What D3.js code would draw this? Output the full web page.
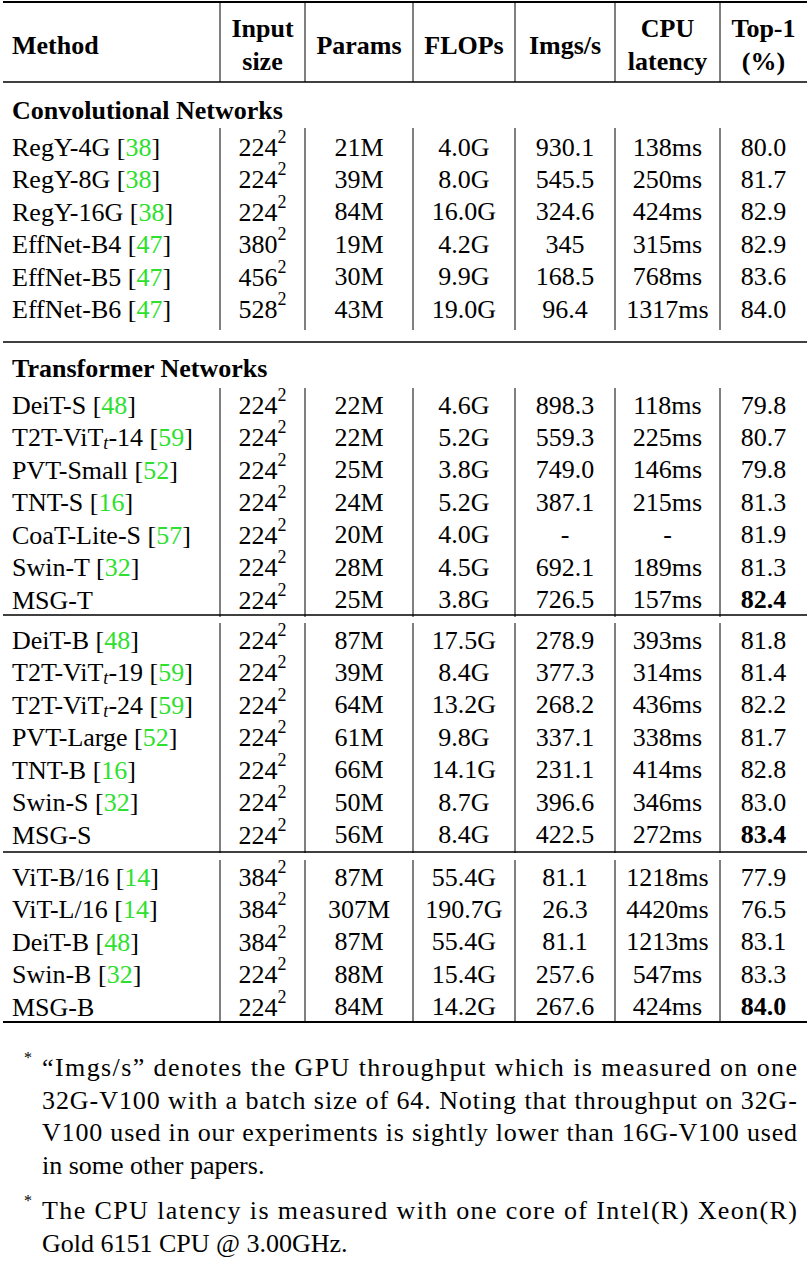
<!DOCTYPE html>
<html><head><meta charset="utf-8">
<script src="https://cdn.jsdelivr.net/npm/d3@7"></script>
<style>body{margin:0;background:#fff}</style></head>
<body><svg id="c" width="811" height="1286"></svg>
<script>
const headers=[["Method"],["Input","size"],["Params"],["FLOPs"],["Imgs/s"],["CPU","latency"],["Top-1","(%)"]];
const sectionTitles=["Convolutional Networks","Transformer Networks","",""];
const methods=[
["RegY-4G","RegY-8G","RegY-16G","EffNet-B4","EffNet-B5","EffNet-B6"],
["DeiT-S","T2T-ViTt-14","PVT-Small","TNT-S","CoaT-Lite-S","Swin-T","MSG-T"],
["DeiT-B","T2T-ViTt-19","T2T-ViTt-24","PVT-Large","TNT-B","Swin-S","MSG-S"],
["ViT-B/16","ViT-L/16","DeiT-B","Swin-B","MSG-B"]];
const refs=[[38,38,38,47,47,47],[48,59,52,16,57,32,null],[48,59,59,52,16,32,null],[14,14,48,32,null]];
const inputSizes=[[224,224,224,380,456,528],[224,224,224,224,224,224,224],[224,224,224,224,224,224,224],[384,384,384,224,224]];
const params=[["21M","39M","84M","19M","30M","43M"],["22M","22M","25M","24M","20M","28M","25M"],["87M","39M","64M","61M","66M","50M","56M"],["87M","307M","87M","88M","84M"]];
const flops=[["4.0G","8.0G","16.0G","4.2G","9.9G","19.0G"],["4.6G","5.2G","3.8G","5.2G","4.0G","4.5G","3.8G"],["17.5G","8.4G","13.2G","9.8G","14.1G","8.7G","8.4G"],["55.4G","190.7G","55.4G","15.4G","14.2G"]];
const imgs=[["930.1","545.5","324.6","345","168.5","96.4"],["898.3","559.3","749.0","387.1","-","692.1","726.5"],["278.9","377.3","268.2","337.1","231.1","396.6","422.5"],["81.1","26.3","81.1","257.6","267.6"]];
const latency=[["138ms","250ms","424ms","315ms","768ms","1317ms"],["118ms","225ms","146ms","215ms","-","189ms","157ms"],["393ms","314ms","436ms","338ms","414ms","346ms","272ms"],["1218ms","4420ms","1213ms","547ms","424ms"]];
const top1=[["80.0","81.7","82.9","82.9","83.6","84.0"],["79.8","80.7","79.8","81.3","81.9","81.3","82.4"],["81.8","81.4","82.2","81.7","82.8","83.0","83.4"],["77.9","76.5","83.1","83.3","84.0"]];
const boldTop=[[],[6],[6],[4]];
const footnotes=[["“Imgs/s” denotes the GPU throughput which is measured on one","32G-V100 with a batch size of 64. Noting that throughput on 32G-","V100 used in our experiments is sightly lower than 16G-V100 used","in some other papers."],["The CPU latency is measured with one core of Intel(R) Xeon(R)","Gold 6151 CPU @ 3.00GHz."]];

const svg=d3.select("#c");
const F="Liberation Serif, Times New Roman, serif", FS=26, green="#2ee02e";
const colEdges=[3,220,305,413,515,615,720,807];
const xc=i=>(colEdges[i]+colEdges[i+1])/2;
const sectionStart=[147,405,640,877], step=32.45;
const sectionTop=[128,388,623,860], sectionBot=[330,617,853,1021];
const rowY=d3.scaleLinear().domain([0,1]).range([0,step]);
const line=(x1,y1,x2,y2,w)=>svg.append("line").attr("x1",x1).attr("y1",y1).attr("x2",x2).attr("y2",y2).attr("stroke","#000").attr("stroke-width",w);
const txt=(x,y,s,anchor="middle",bold=false)=>svg.append("text").attr("x",x).attr("y",y).attr("font-family",F).attr("font-size",FS).attr("text-anchor",anchor).attr("dominant-baseline","central").attr("font-weight",bold?"bold":"normal").text(s);

line(3,2,807,2,2); line(3,82,807,82,1.5);
[342,615,852].forEach(y=>line(3,y,807,y,1.3));
line(3,1022,807,1022,2);
headers.forEach((h,i)=>{
  const x=i===0?12:xc(i);
  if(h.length===1) txt(x,45,h[0],i===0?"start":"middle",true);
  else {txt(x,28,h[0],"middle",true);txt(x,61,h[1],"middle",true);}
});
for(let k=1;k<7;k++) line(colEdges[k],2,colEdges[k],82,1);
methods.forEach((ms,s)=>{
  if(sectionTitles[s]) txt(12,sectionStart[s]-37,sectionTitles[s],"start",true);
  for(let k=1;k<7;k++) line(colEdges[k],sectionTop[s],colEdges[k],s===3?1021:sectionBot[s],1);
  ms.forEach((m,r)=>{
    const y=sectionStart[s]+rowY(r);
    const t=svg.append("text").attr("x",12).attr("y",y).attr("font-family",F).attr("font-size",FS).attr("dominant-baseline","central");
    if(m.includes("ViTt")){const [a,b]=m.split("ViTt");t.append("tspan").text(a+"ViT");t.append("tspan").attr("font-style","italic").attr("font-size",18).attr("dy",6).text("t");t.append("tspan").attr("dy",-6).text(b);}
    else t.append("tspan").text(m);
    if(refs[s][r]!=null){t.append("tspan").text(" [");t.append("tspan").attr("fill",green).text(refs[s][r]);t.append("tspan").text("]");}
    const it=svg.append("text").attr("x",xc(1)).attr("y",y).attr("font-family",F).attr("font-size",FS).attr("text-anchor","middle").attr("dominant-baseline","central");
    it.append("tspan").text(inputSizes[s][r]);it.append("tspan").attr("font-size",18).attr("dy",-10).text("2");
    txt(xc(2),y,params[s][r]);txt(xc(3),y,flops[s][r]);txt(xc(4),y,imgs[s][r]);txt(xc(5),y,latency[s][r]);
    txt(xc(6),y,top1[s][r],"middle",boldTop[s].includes(r));
  });
});
const fy=[[1067,1100,1132,1165],[1210,1243]];
footnotes.forEach((fn,i)=>{
  svg.append("text").attr("x",28).attr("y",fy[i][0]-10).attr("font-family",F).attr("font-size",16).attr("text-anchor","middle").attr("dominant-baseline","central").text("*");
  fn.forEach((l,j)=>{
    const t=svg.append("text").attr("x",42).attr("y",fy[i][j]).attr("font-family",F).attr("font-size",FS).attr("dominant-baseline","central").text(l);
    if(j<fn.length-1) t.attr("textLength",755).attr("lengthAdjust","spacing");
  });
});
</script></body></html>
